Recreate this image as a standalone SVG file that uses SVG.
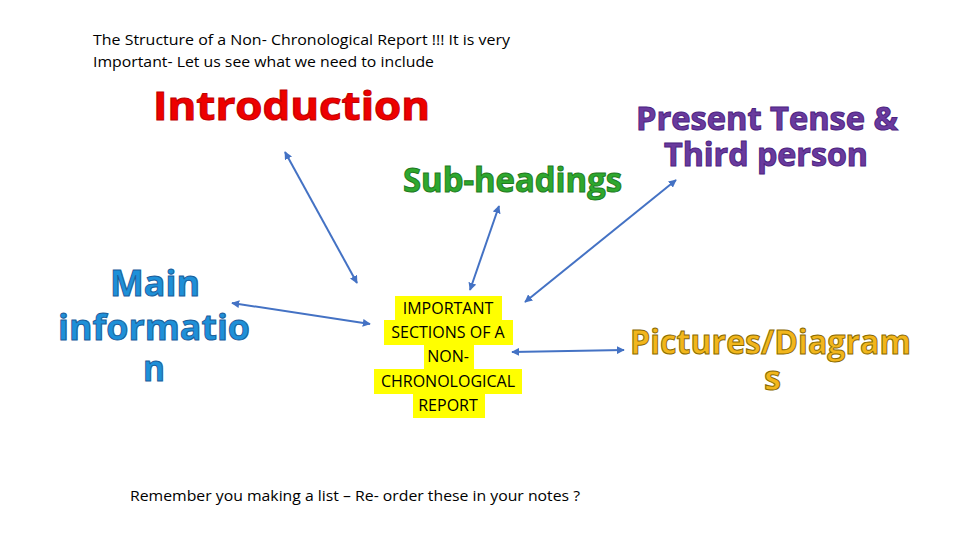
<svg xmlns="http://www.w3.org/2000/svg" width="960" height="540" viewBox="0 0 960 540">
<defs>
<style>
.t{font-family:"Open Sans","Liberation Sans",sans-serif;font-size:15px;fill:#000}
.h{font-family:"Open Sans","Liberation Sans",sans-serif;font-weight:bold;stroke-width:1}
.b{font-family:"Open Sans","Liberation Sans",sans-serif;font-size:16px;fill:#000;text-anchor:middle}
.c{stroke:#4472C4;stroke-width:2;fill:none;marker-start:url(#a);marker-end:url(#a)}
</style>
<marker id="a" viewBox="0 0 10 10" refX="9" refY="5" markerWidth="4" markerHeight="4" orient="auto-start-reverse"><path d="M0,0L10,5L0,10z" fill="#4472C4"/></marker>
</defs>
<rect width="960" height="540" fill="#fff"/>
<g id="title">
<text class="t" x="93" y="45" textLength="417" lengthAdjust="spacingAndGlyphs">The Structure of a Non- Chronological Report !!! It is very</text>
<text class="t" x="93" y="67" textLength="341" lengthAdjust="spacingAndGlyphs">Important- Let us see what we need to include</text>
</g>
<g id="introduction"><text class="h" x="153" y="120" font-size="40" fill="#EE0000" stroke="#C00000" textLength="277" lengthAdjust="spacingAndGlyphs">Introduction</text></g>
<g id="subheadings"><text class="h" x="403" y="192" font-size="34" fill="#2EA82E" stroke="#1E7A1E" textLength="219" lengthAdjust="spacingAndGlyphs">Sub-headings</text></g>
<g id="present">
<text class="h" x="636" y="130" font-size="32" fill="#6A3A9E" stroke="#4B2480" textLength="262" lengthAdjust="spacingAndGlyphs">Present Tense &amp;</text>
<text class="h" x="664" y="166" font-size="32" fill="#6A3A9E" stroke="#4B2480" textLength="204" lengthAdjust="spacingAndGlyphs">Third person</text>
</g>
<g id="main">
<text class="h" x="110" y="296" font-size="36" fill="#1E90D8" stroke="#1A5C9A" textLength="90" lengthAdjust="spacingAndGlyphs">Main</text>
<text class="h" x="58" y="340" font-size="36" fill="#1E90D8" stroke="#1A5C9A" textLength="192" lengthAdjust="spacingAndGlyphs">informatio</text>
<text class="h" x="143" y="381" font-size="36" fill="#1E90D8" stroke="#1A5C9A" textLength="22" lengthAdjust="spacingAndGlyphs">n</text>
</g>
<g id="pictures">
<text class="h" x="630" y="354" font-size="34" fill="#F2B61C" stroke="#8A6A00" textLength="281" lengthAdjust="spacingAndGlyphs">Pictures/Diagram</text>
<text class="h" x="764" y="390" font-size="34" fill="#F2B61C" stroke="#8A6A00" textLength="17" lengthAdjust="spacingAndGlyphs">s</text>
</g>
<g id="centre">
<rect x="395" y="296" width="107" height="24" fill="#FFFF00"/>
<rect x="384" y="320" width="129" height="25" fill="#FFFF00"/>
<rect x="424" y="345" width="50" height="24" fill="#FFFF00"/>
<rect x="374" y="369" width="148" height="25" fill="#FFFF00"/>
<rect x="413" y="394" width="72" height="24" fill="#FFFF00"/>
<text class="b" x="448" y="314">IMPORTANT</text>
<text class="b" x="448" y="338">SECTIONS OF A</text>
<text class="b" x="448" y="362">NON-</text>
<text class="b" x="448" y="387">CHRONOLOGICAL</text>
<text class="b" x="448" y="411">REPORT</text>
</g>
<g id="footer"><text class="t" x="130" y="501" textLength="450" lengthAdjust="spacingAndGlyphs">Remember you making a list – Re- order these in your notes ?</text></g>
<g id="connectors">
<line class="c" x1="285" y1="152" x2="357" y2="283"/>
<line class="c" x1="499" y1="206" x2="470" y2="290"/>
<line class="c" x1="676" y1="180" x2="525" y2="302"/>
<line class="c" x1="232" y1="303" x2="370" y2="324"/>
<line class="c" x1="512" y1="352" x2="624" y2="350"/>
</g>
</svg>
